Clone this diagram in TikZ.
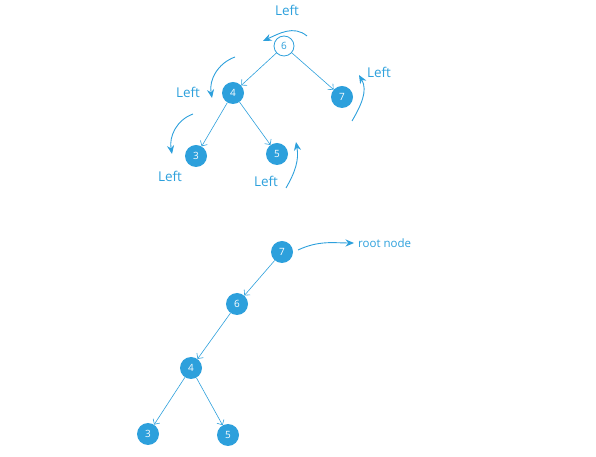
\documentclass[tikz,border=0pt]{standalone}
\usepackage{fontspec}
\setmainfont{Open Sans}
\usepackage{xcolor}
\usepackage{tikz}
\usetikzlibrary{arrows.meta}
\definecolor{treeblue}{RGB}{45,160,220}
\tikzset{
  keynode/.style={circle, fill=treeblue, text=white, inner sep=0pt,
                  minimum size=22pt, font=\fontsize{10}{12}\selectfont},
  keyhollow/.style={keynode, fill=white, draw=treeblue, text=treeblue,
                    minimum size=20pt, line width=0.8pt},
  edge/.style={-{Straight Barb[length=1.4mm,width=2.8mm]}, treeblue, line width=0.6pt},
  turn/.style={-{Stealth[length=3mm,width=2.5mm]}, treeblue, line width=0.9pt},
  lbl/.style={text=treeblue, font=\fontsize{13.5}{15}\selectfont, inner sep=1pt},
}
\begin{document}
\begin{tikzpicture}[x=1pt,y=1pt]
  \useasboundingbox (0,0) rectangle (596,457);
  \node[keyhollow] (t6) at (284,411) {6};
  \node[keynode] (t4) at (233,364) {4};
  \node[keynode] (t7) at (342,360) {7};
  \node[keynode] (t3) at (196,301) {3};
  \node[keynode] (t5) at (277,303) {5};
  \draw[edge] (t6) -- (t4);
  \draw[edge] (t6) -- (t7);
  \draw[edge] (t4) -- (t3);
  \draw[edge] (t4) -- (t5);
  \coordinate (r6s) at (307,421);  \coordinate (r6e) at (263,416);
  \coordinate (r4s) at (235,400);  \coordinate (r4e) at (212,359);
  \coordinate (r3s) at (193,343);  \coordinate (r3e) at (172,303);
  \coordinate (r7s) at (352,336);  \coordinate (r7e) at (359,382);
  \coordinate (r5s) at (286,269);  \coordinate (r5e) at (296,315);
  \draw[turn] (r6s) to[out=140,in=25] (r6e);
  \draw[turn] (r4s) to[out=200,in=100] (r4e);
  \draw[turn] (r3s) to[out=200,in=100] (r3e);
  \draw[turn] (r7s) to[out=60,in=-60] (r7e);
  \draw[turn] (r5s) to[out=60,in=-80] (r5e);
  \node[lbl] (l6) at (287,447) {Left};
  \node[lbl] (l4) at (188,365) {Left};
  \node[lbl] (l3) at (170,281) {Left};
  \node[lbl] (l7) at (379,385) {Left};
  \node[lbl] (l5) at (266,276) {Left};
  \node[keynode] (b7) at (282,205) {7};
  \node[keynode] (b6) at (237,153) {6};
  \node[keynode] (b4) at (191,89) {4};
  \node[keynode] (b3) at (148,23) {3};
  \node[keynode] (b5) at (228,22) {5};
  \draw[edge] (b7) -- (b6);
  \draw[edge] (b6) -- (b4);
  \draw[edge] (b4) -- (b3);
  \draw[edge] (b4) -- (b5);
  \node[text=treeblue, font=\fontsize{11.5}{13}\selectfont, anchor=west, inner sep=1pt]
       (root) at (357,214) {root node};
  \coordinate (rts) at (298,207);
  \draw[turn, shorten >=3pt] (rts) to[out=25,in=180] (root.west);
\end{tikzpicture}
\end{document}
